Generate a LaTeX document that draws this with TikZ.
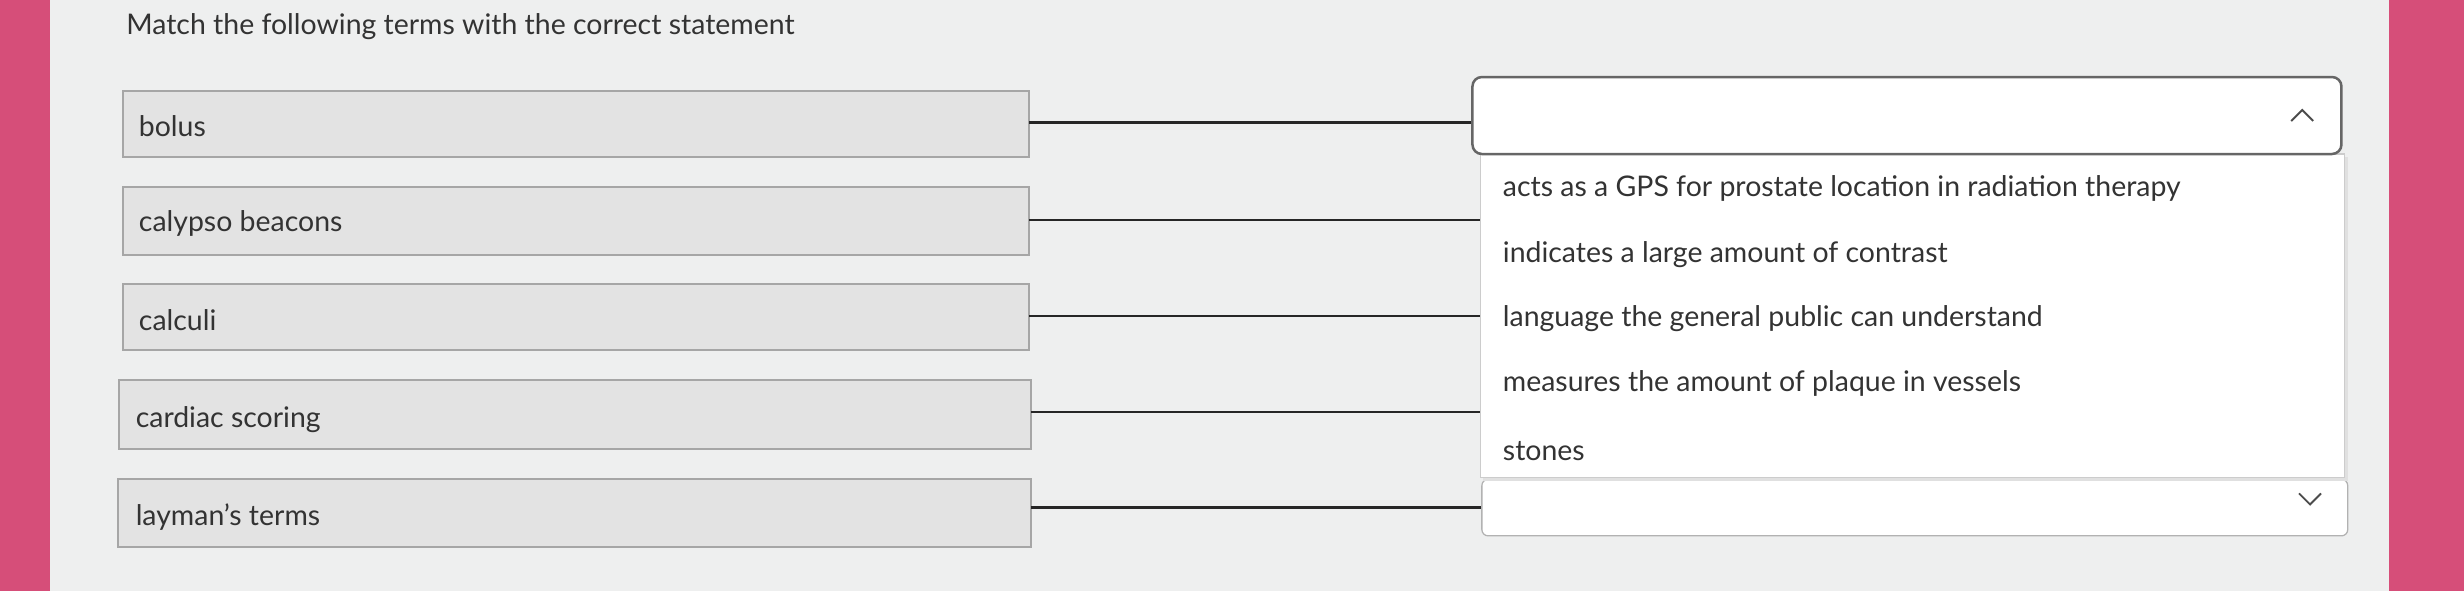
\documentclass[tikz,border=0pt]{standalone}
\usepackage{fontspec}
\setmainfont{Lato}
\begin{document}
\begin{tikzpicture}[x=0.5pt,y=-0.5pt,
  term/.style={draw=gray!70,fill=black!11,line width=0.6pt},
  lbl/.style={anchor=west,font=\fontsize{9.05}{10}\selectfont,text=black!80,inner sep=0},
  conn/.style={draw=black!85,line width=0.7pt},
  chev/.style={draw=black!70,line width=0.6pt}]
\useasboundingbox (0,0) rectangle (1568,376);
\fill[fill={rgb,255:red,214;green,78;blue,121}] (0,0) rectangle (1568,376);
\fill[fill={rgb,255:red,238;green,239;blue,239}] (32,0) rectangle (1520,376);
\node[lbl] (title) at (80,17) {Match the following terms with the correct statement};
% terms
\draw[term] (78,58) rectangle (655,100); \node[lbl] (t1) at (88,80) {bolus};
\draw[term] (78,119) rectangle (655,162); \node[lbl] (t2) at (88,142) {calypso beacons};
\draw[term] (78,181) rectangle (655,223); \node[lbl] (t3) at (88,204) {calculi};
\draw[term] (76,242) rectangle (656,286); \node[lbl] (t4) at (86,267) {cardiac scoring};
\draw[term] (75,305) rectangle (656,348); \node[lbl] (t5) at (86,329) {layman\char"0027 s terms};
% connectors
\coordinate (a1) at (655,78); \coordinate (b1) at (938,78);
\coordinate (a2) at (655,140); \coordinate (b2) at (942,140);
\coordinate (a3) at (655,201); \coordinate (b3) at (942,201);
\coordinate (a4) at (656,262); \coordinate (b4) at (942,262);
\coordinate (a5) at (656,323); \coordinate (b5) at (943,323);
\foreach \i in {1,...,5} \draw[conn] (a\i) -- (b\i);
% bottom select
\draw[draw=gray!60,fill=white,rounded corners=2pt] (943,305) rectangle (1494,341);
\draw[chev] (1463,314) -- (1470,321) -- (1477,314);
% dropdown list
\fill[black!12] (944,100) rectangle (1494,306);
\draw[draw=gray!40,fill=white] (942,98) rectangle (1492,304);
\node[lbl] (o1) at (956,120) {acts as a GPS for prostate location in radiation therapy};
\node[lbl] (o2) at (956,162) {indicates a large amount of contrast};
\node[lbl] (o3) at (956,203) {language the general public can understand};
\node[lbl] (o4) at (956,244) {measures the amount of plaque in vessels};
\node[lbl] (o5) at (956,287) {stones};
% top select
\draw[draw=black!60,fill=white,line width=0.8pt,rounded corners=3pt] (937,49) rectangle (1490,98);
\draw[chev] (1458,77) -- (1465,70) -- (1472,77);
\end{tikzpicture}
\end{document}
